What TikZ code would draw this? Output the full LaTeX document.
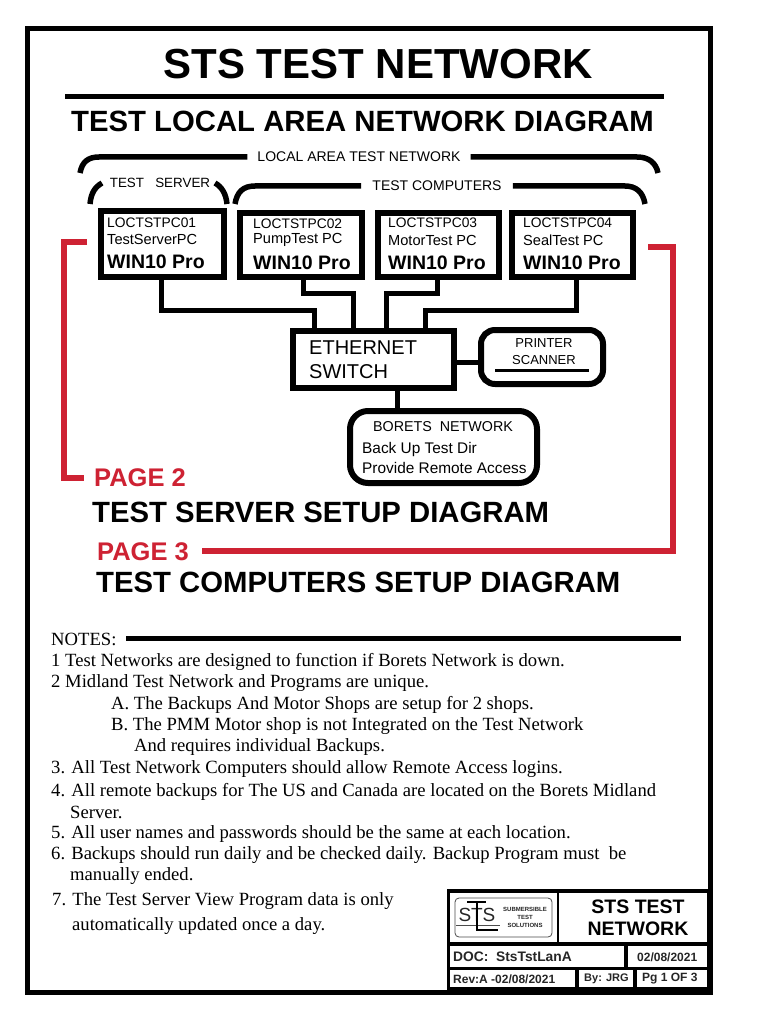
\documentclass[tikz,border=0pt]{standalone}
\usepackage{fontspec}
\setmainfont{Liberation Serif}
\setsansfont{Liberation Sans}
\newcommand{\pxsize}[1]{\fontsize{#1}{#1}\selectfont}
\definecolor{pagered}{HTML}{CE2233}
\tikzset{
    wire/.style={line width=5pt,black,line join=miter},
    bracket/.style={line width=5.5pt,black},
    redline/.style={line width=6pt,pagered},
    pcbox/.style={draw,line width=6pt,minimum width=122pt,minimum height=64pt,inner sep=0pt},
    pcname/.style={font=\sffamily\pxsize{13.8},anchor=west,inner sep=0pt},
    pckind/.style={font=\sffamily\pxsize{14.6},anchor=west,inner sep=0pt},
    pcos/.style={font=\sffamily\bfseries\pxsize{19.5},anchor=west,inner sep=0pt},
    roundbox/.style={draw,line width=6pt,rounded corners=14pt,inner sep=0pt},
    bracelabel/.style={font=\sffamily\pxsize{14},inner sep=0pt},
    headline/.style={font=\sffamily\bfseries\pxsize{29.3},anchor=west,inner sep=0pt},
    pagelabel/.style={font=\sffamily\bfseries\pxsize{25.5},text=pagered,anchor=west,inner sep=0pt},
    note/.style={font=\pxsize{18.65},anchor=west,inner sep=0pt,yshift=-1.5pt},
    cell/.style={fill=white,inner sep=0pt},
    celltext/.style={font=\sffamily\bfseries\pxsize{12},anchor=west,inner sep=0pt,text=black!85},
    logotext/.style={font=\sffamily\bfseries\pxsize{6},inner sep=0pt,text=black!85}
}
\begin{document}
\begin{tikzpicture}[x=1pt,y=-1pt]
    \useasboundingbox (0,0) rectangle (768,1024);
    \fill[white] (0,0) rectangle (768,1024);
    \draw[line width=5pt] (27,29) rectangle (710,992);
    \node[font=\sffamily\bfseries\pxsize{42},inner sep=0pt] (title) at (378,64) {STS TEST NETWORK};
    \draw[line width=5pt] (65,97)--(664,97);
    \node[headline] (lan) at (71,121) {TEST LOCAL AREA NETWORK DIAGRAM};
    % braces
    \node[bracelabel] (lanlabel) at (359,157) {LOCAL AREA TEST NETWORK};
    \draw[bracket] (lanlabel.west)++(-10,0) -- (99,157) .. controls (88,157) and (82,162) .. (80,173);
    \draw[bracket] (lanlabel.east)++(10,0) -- (637,157) .. controls (649,157) and (656,163) .. (658,173);
    \node[bracelabel,font=\sffamily\pxsize{13.4}] (srvlabel) at (160,183) {TEST\ \ \ SERVER};
    \draw[bracket] (102,183) .. controls (95,187) and (91,193) .. (90,204);
    \draw[bracket] (215,183) .. controls (222,187) and (226,194) .. (227,204);
    \node[bracelabel] (complabel) at (437,186) {TEST COMPUTERS};
    \draw[bracket] (complabel.west)++(-11,0) -- (255,186) .. controls (243,186) and (237,192) .. (235,204);
    \draw[bracket] (complabel.east)++(11,0) -- (625,186) .. controls (636,186) and (643,192) .. (645,204);
    % computers
    \node[pcbox,minimum width=123pt,minimum height=66pt] (pc1) at (162.5,244) {};
    \node[pcbox] (pc2) at (301,245) {};
    \node[pcbox,minimum width=121pt] (pc3) at (438.5,245) {};
    \node[pcbox,minimum width=121pt] (pc4) at (572.5,245) {};
    \node[pcname] (pc1a) at (107,223) {LOCTSTPC01};
    \node[pckind] (pc1b) at (107,239) {TestServerPC};
    \node[pcos] (pc1c) at (107,262) {WIN10 Pro};
    \node[pcname] (pc2a) at (253,224) {LOCTSTPC02};
    \node[pckind] (pc2b) at (253,240) {PumpTest PC};
    \node[pcos] (pc2c) at (253,263) {WIN10 Pro};
    \node[pcname] (pc3a) at (388,223) {LOCTSTPC03};
    \node[pckind] (pc3b) at (388,240) {MotorTest PC};
    \node[pcos] (pc3c) at (388,263) {WIN10 Pro};
    \node[pcname] (pc4a) at (523,223) {LOCTSTPC04};
    \node[pckind] (pc4b) at (523,240) {SealTest PC};
    \node[pcos] (pc4c) at (523,263) {WIN10 Pro};
    % switch and the rest
    \node[draw,line width=6pt,minimum width=161pt,minimum height=57pt,inner sep=0pt] (switch) at (373.5,359.5) {};
    \node[font=\sffamily\pxsize{20},anchor=west,inner sep=0pt] (sw1) at (309,348) {ETHERNET};
    \node[font=\sffamily\pxsize{20},anchor=west,inner sep=0pt] (sw2) at (309,372) {SWITCH};
    \node[roundbox,minimum width=122pt,minimum height=54pt] (printer) at (542,357) {};
    \node[bracelabel,font=\sffamily\pxsize{13}] (pr1) at (544,343) {PRINTER};
    \node[bracelabel,font=\sffamily\pxsize{13}] (pr2) at (544,360) {SCANNER};
    \draw[line width=3pt] (495,370)--(589,370);
    \node[roundbox,minimum width=187pt,minimum height=72pt,rounded corners=18pt] (borets) at (443.5,447) {};
    \node[bracelabel,font=\sffamily\pxsize{14.3}] (bo1) at (443,427) {BORETS\ \ NETWORK};
    \node[pcname,font=\sffamily\pxsize{15.4}] (bo2) at (362,450) {Back Up Test Dir};
    \node[pcname,font=\sffamily\pxsize{15.4}] (bo3) at (362,468) {Provide Remote Access};
    % wires
    \draw[wire] (pc1.south -| 161,0) -- (161,310) -- (314,310) -- (switch.north -| 314,0);
    \draw[wire] (pc2.south -| 303,0) -- (303,293) -- (353,293) -- (switch.north -| 353,0);
    \draw[wire] (pc3.south -| 437,0) -- (437,293) -- (386,293) -- (switch.north -| 386,0);
    \draw[wire] (pc4.south -| 576,0) -- (576,310) -- (425,310) -- (switch.north -| 425,0);
    \draw[wire] (switch.east |- 0,362) -- (printer.west |- 0,362);
    \draw[wire] (switch.south -| 397,0) -- (borets.north -| 397,0);
    % page links
    \node[pagelabel] (page2) at (94,478) {PAGE 2};
    \node[headline] (page2t) at (92,512) {TEST SERVER SETUP DIAGRAM};
    \node[pagelabel] (page3) at (97,552) {PAGE 3};
    \node[headline] (page3t) at (96,582) {TEST COMPUTERS SETUP DIAGRAM};
    \draw[redline] (87,242)--(64,242)--(64,478)--(84,478);
    \draw[redline] (648,247)--(673,247)--(673,551)--(202,551);
    % notes
    \node[note] (notes) at (51,638) {NOTES:};
    \draw[line width=5pt] (126,638) -- (681,638);
    \node[note] at (51,660) {1 Test Networks are designed to function if Borets Network is down.};
    \node[note] at (51,682) {2 Midland Test Network and Programs are unique.};
    \node[note] at (111,703) {A. The Backups And Motor Shops are setup for 2 shops.};
    \node[note] at (111,725) {B. The PMM Motor shop is not Integrated on the Test Network};
    \node[note] at (134,746) {And requires individual Backups.};
    \node[note] at (51,768) {3. All Test Network Computers should allow Remote Access logins.};
    \node[note] at (51,790) {4. All remote backups for The US and Canada are located on the Borets Midland};
    \node[note] at (70,811) {Server.};
    \node[note] at (51,833) {5. All user names and passwords should be the same at each location.};
    \node[note] at (51,854) {6. Backups should run daily and be checked daily. Backup Program must\ \ be};
    \node[note] at (70,875) {manually ended.};
    \node[note] at (52,900) {7. The Test Server View Program data is only};
    \node[note] at (72,925) {automatically updated once a day.};
    % title block
    \fill[black] (447,889) rectangle (710,992);
    \fill[cell] (450,893) rectangle (557,942);
    \fill[cell] (559,893) rectangle (707,942);
    \fill[cell] (450,946) rectangle (624,967);
    \fill[cell] (628,946) rectangle (707,967);
    \fill[cell] (450,970) rectangle (575,987);
    \fill[cell] (579,970) rectangle (633,987);
    \fill[cell] (637,970) rectangle (707,987);
    \draw[black!70,line width=0.8pt,rounded corners=4pt] (455,898) rectangle (552,937);
    \node[font=\sffamily\pxsize{19},inner sep=0pt,text=black!85] (logos1) at (465,915) {S};
    \node[font=\sffamily\pxsize{19},inner sep=0pt,text=black!85] (logot) at (477,915) {T};
    \node[font=\sffamily\pxsize{19},inner sep=0pt,text=black!85] (logos2) at (489,915) {S};
    \draw[line width=2pt] (467,902)--(486,902);
    \draw[black!70,line width=1pt] (456,925)--(500,925);
    \draw[line width=2pt] (477,902)--(477,930)--(498,930);
    \node[logotext] (logotext1) at (525,909) {SUBMERSIBLE};
    \node[logotext] (logotext2) at (525,917) {TEST};
    \node[logotext] (logotext3) at (525,925) {SOLUTIONS};
    \node[font=\sffamily\bfseries\pxsize{19.5},align=center,inner sep=0pt] (blockt) at (638,918) {STS TEST\\[2pt]NETWORK};
    \node[celltext,font=\sffamily\bfseries\pxsize{13.8}] (doc) at (453,957) {DOC:\ \ StsTstLanA};
    \node[celltext] (date) at (637,957) {02/08/2021};
    \node[celltext] (rev) at (453,979) {Rev:A -02/08/2021};
    \node[celltext,font=\sffamily\bfseries\pxsize{11}] (by) at (584,979) {By: JRG};
    \node[celltext] (pg) at (642,979) {Pg 1 OF 3};
\end{tikzpicture}
\end{document}
